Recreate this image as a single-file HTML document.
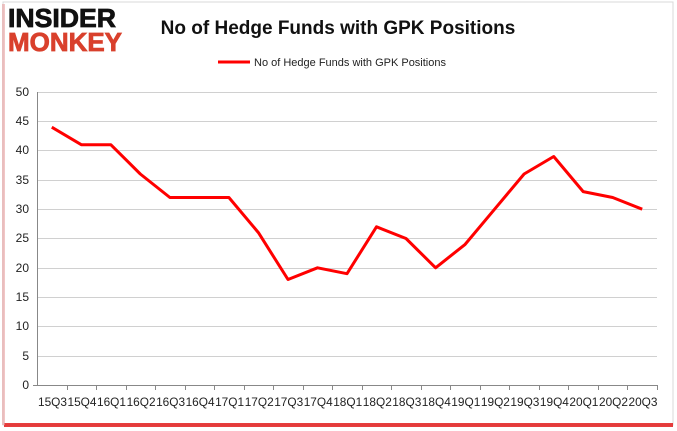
<!DOCTYPE html>
<html><head><meta charset="utf-8"><style>
html,body{margin:0;padding:0;background:#fff;}
body{width:677px;height:431px;overflow:hidden;position:relative;font-family:"Liberation Sans",sans-serif;}
</style></head><body>
<svg width="677" height="431" xmlns="http://www.w3.org/2000/svg" style="position:absolute;left:0;top:0">
<rect x="0" y="0" width="677" height="431" fill="#fff"/>
<rect x="3" y="2" width="670" height="423" fill="none" stroke="#d8d8d8" stroke-width="1"/>
<rect x="4" y="423" width="669" height="4" fill="#e31c1c" opacity="0.85"/>
<rect x="2" y="4" width="3" height="421" fill="#e8a0a0" opacity="0.6"/>
<text x="8" y="27" font-family="Liberation Sans" font-weight="900" font-size="26" fill="#111" stroke="#111" stroke-width="0.8" textLength="108" lengthAdjust="spacingAndGlyphs">INSIDER</text>
<text x="8" y="51" font-family="Liberation Sans" font-weight="900" font-size="26" fill="#d9402c" stroke="#d9402c" stroke-width="0.8" textLength="114" lengthAdjust="spacingAndGlyphs">MONKEY</text>
<text x="338" y="34" text-anchor="middle" font-size="19" font-weight="bold" fill="#111">No of Hedge Funds with GPK Positions</text>
<line x1="218" y1="62" x2="250" y2="62" stroke="#ff0000" stroke-width="3"/>
<text x="254" y="66" font-size="11" fill="#222">No of Hedge Funds with GPK Positions</text>
<g stroke="#d0d0d0" stroke-width="1">
<line x1="37" y1="92.5" x2="657" y2="92.5"/><line x1="37" y1="121.5" x2="657" y2="121.5"/>
<line x1="37" y1="150.5" x2="657" y2="150.5"/><line x1="37" y1="180.5" x2="657" y2="180.5"/>
<line x1="37" y1="209.5" x2="657" y2="209.5"/><line x1="37" y1="238.5" x2="657" y2="238.5"/>
<line x1="37" y1="268.5" x2="657" y2="268.5"/><line x1="37" y1="297.5" x2="657" y2="297.5"/>
<line x1="37" y1="326.5" x2="657" y2="326.5"/><line x1="37" y1="356.5" x2="657" y2="356.5"/>
</g>
<g stroke="#888" stroke-width="1">
<line x1="37.5" y1="92" x2="37.5" y2="385"/>
<line x1="33" y1="385.5" x2="657" y2="385.5"/>
</g>
<g font-size="12" fill="#222" text-anchor="end">
<text x="29" y="96">50</text><text x="29" y="125">45</text><text x="29" y="154">40</text>
<text x="29" y="184">35</text><text x="29" y="213">30</text><text x="29" y="242">25</text>
<text x="29" y="272">20</text><text x="29" y="301">15</text><text x="29" y="330">10</text>
<text x="29" y="360">5</text><text x="29" y="389">0</text>
</g>
<g id="ticks" stroke="#888"></g>
<g id="xl" font-size="12" fill="#222"></g>
<polyline fill="none" stroke="#ff0000" stroke-width="3" stroke-linejoin="round" id="ln"/>
</svg>
<script>
var d=[44,41,41,36,32,32,32,26,18,20,19,27,25,20,24,30,36,39,33,32,30];
var labs=["15Q3","15Q4","16Q1","16Q2","16Q3","16Q4","17Q1","17Q2","17Q3","17Q4","18Q1","18Q2","18Q3","18Q4","19Q1","19Q2","19Q3","19Q4","20Q1","20Q2","20Q3"];
var ns="http://www.w3.org/2000/svg",w=620/21,pts=[];
var tk=document.getElementById("ticks"),xl=document.getElementById("xl");
for(var i=0;i<21;i++){
 var x=37+w*(i+0.5);pts.push(x.toFixed(1)+","+(385-d[i]*5.86).toFixed(1));
 var t=document.createElementNS(ns,"line");var tx=Math.round(37+w*(i+1))+0.5;
 t.setAttribute("x1",tx);t.setAttribute("x2",tx);t.setAttribute("y1",385);t.setAttribute("y2",390);tk.appendChild(t);
 var s=document.createElementNS(ns,"text");s.setAttribute("x",(38+w*i).toFixed(1));s.setAttribute("y",406);
 s.setAttribute("textLength","29");s.setAttribute("lengthAdjust","spacingAndGlyphs");s.textContent=labs[i];xl.appendChild(s);
}
document.getElementById("ln").setAttribute("points",pts.join(" "));
</script>
</body></html>
